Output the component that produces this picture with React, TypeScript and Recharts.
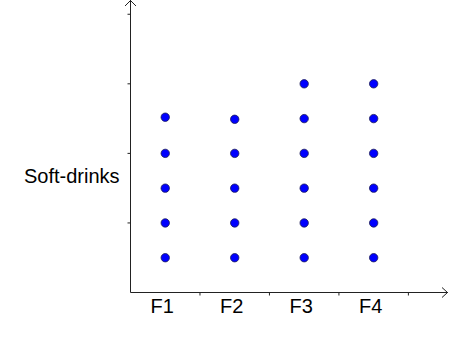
import React from 'react';
import { ScatterChart, Scatter, XAxis, YAxis, Customized } from 'recharts';

const categories = ['F1', 'F2', 'F3', 'F4'];
const f1Values = [1, 2, 3, 4, 5.04];
const f2Values = [1, 2, 3, 4, 4.98];
const f3Values = [1, 2, 3, 4, 5, 6];
const f4Values = [1, 2, 3, 4, 5, 6];
const yTicks = [2, 4, 6, 8];
const boundaryTicks = [1, 2, 3, 4];

const seriesValues = [f1Values, f2Values, f3Values, f4Values];
const points = seriesValues.flatMap((vals, i) => vals.map((v) => ({ x: i + 0.5, y: v })));
const catTicks = categories.map((_, i) => i + 0.5);
const xTicks = [...catTicks, ...boundaryTicks].sort((a, b) => a - b);

const W = 450;
const H = 358;
const Y_AXIS_W = 130.5;
const MARGIN = { top: 0, right: 2, bottom: 25.5, left: 0 };
const X_AXIS_H = 40;
const X_MAX = 4.57;
const Y_MAX = 8.41;
const FONT = '"Liberation Sans", Arial, sans-serif';
const AXIS_COLOR = '#222';

const Arrows = () => {
  const left = MARGIN.left + Y_AXIS_W;
  const top = MARGIN.top;
  const right = W - MARGIN.right;
  const bottom = H - MARGIN.bottom - X_AXIS_H;
  return (
    <g fill="none" stroke={AXIS_COLOR} strokeWidth={1}>
      <polyline points={`${left - 5.5},${top + 6} ${left},${top + 0.5} ${left + 5.5},${top + 6}`} />
      <polyline points={`${right - 6},${bottom - 5} ${right - 0.5},${bottom} ${right - 6},${bottom + 5}`} />
    </g>
  );
};

const EmptyTick = () => <g />;

const XTick = (p: any) => {
  const v = p.payload.value as number;
  if (Number.isInteger(v)) {
    return <line x1={p.x} y1={p.y} x2={p.x} y2={p.y + 3} stroke={AXIS_COLOR} strokeWidth={1} />;
  }
  const label = categories[Math.round(v - 0.5)];
  return (
    <text x={p.x - 3} y={p.y + 6} dy="0.72em" textAnchor="middle" fill="#000" fontSize={20} fontFamily={FONT}>
      {label}
    </text>
  );
};

const Dot = (p: any) => (
  <circle cx={p.cx} cy={p.cy} r={4.2} fill="#0000ff" stroke="#1c1c55" strokeWidth={0.8} />
);

export default function App() {
  return (
    <div style={{ position: 'absolute', left: 0, top: 0, background: '#fff' }}>
      <ScatterChart width={W} height={H} margin={MARGIN}>
        <XAxis
          type="number"
          dataKey="x"
          domain={[0, X_MAX]}
          allowDataOverflow
          ticks={xTicks}
          tick={XTick}
          tickLine={false}
          tickSize={0}
          tickMargin={0}
          height={X_AXIS_H}
          interval={0}
          axisLine={{ stroke: AXIS_COLOR }}
        />
        <YAxis
          type="number"
          dataKey="y"
          domain={[0, Y_MAX]}
          allowDataOverflow
          ticks={yTicks}
          tick={EmptyTick}
          tickSize={3}
          interval={0}
          width={Y_AXIS_W}
          axisLine={{ stroke: AXIS_COLOR }}
          tickLine={{ stroke: AXIS_COLOR }}
          label={{
            value: 'Soft-drinks',
            position: 'insideLeft',
            offset: 24,
            dy: 30,
            fill: '#000',
            fontSize: 20,
            fontFamily: FONT,
          }}
        />
        <Scatter data={points} shape={Dot} isAnimationActive={false} />
        <Customized component={<Arrows />} />
      </ScatterChart>
    </div>
  );
}
